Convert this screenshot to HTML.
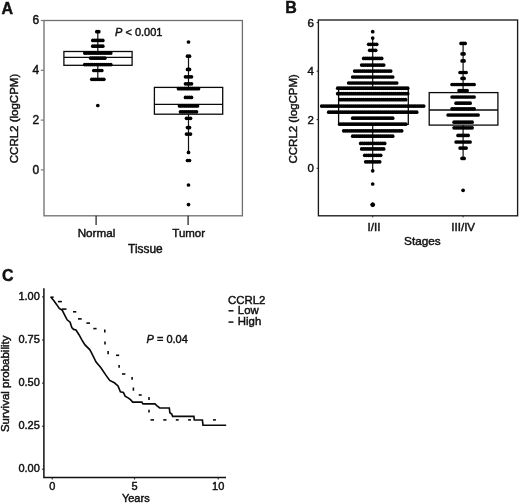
<!DOCTYPE html>
<html lang="en">
<head>
<meta charset="utf-8">
<title>CCRL2 expression figure</title>
<style>
html,body{margin:0;padding:0;background:#fff;}
body{width:520px;height:503px;overflow:hidden;}
svg{display:block;}
svg text{font-family:"Liberation Sans",Arial,sans-serif;stroke:#111;stroke-width:0.45px;}
</style>
</head>
<body>
<svg width="520" height="503" viewBox="0 0 520 503">
<rect width="520" height="503" fill="#fff"/>
<g id="panelA">
<text x="1.5" y="14.0" font-size="16" font-weight="bold" fill="#111">A</text>
<rect x="44" y="20.5" width="198.4" height="195.3" fill="none" stroke="#6e6e6e" stroke-width="1.3"/>
<line x1="40.8" x2="44" y1="20.5" y2="20.5" stroke="#7a7a7a" stroke-width="1.2"/>
<text x="39.3" y="24.3" font-size="12" text-anchor="end" fill="#111">6</text>
<line x1="40.8" x2="44" y1="70.3" y2="70.3" stroke="#7a7a7a" stroke-width="1.2"/>
<text x="39.3" y="74.1" font-size="12" text-anchor="end" fill="#111">4</text>
<line x1="40.8" x2="44" y1="120.1" y2="120.1" stroke="#7a7a7a" stroke-width="1.2"/>
<text x="39.3" y="123.9" font-size="12" text-anchor="end" fill="#111">2</text>
<line x1="40.8" x2="44" y1="169.9" y2="169.9" stroke="#7a7a7a" stroke-width="1.2"/>
<text x="39.3" y="173.7" font-size="12" text-anchor="end" fill="#111">0</text>
<line x1="96.1" x2="96.1" y1="215.8" y2="225" stroke="#2a2a2a" stroke-width="1.3"/>
<line x1="188.1" x2="188.1" y1="215.8" y2="225" stroke="#2a2a2a" stroke-width="1.3"/>
<text x="96.5" y="236.9" font-size="11.7" text-anchor="middle" fill="#111">Normal</text>
<text x="188.7" y="237.2" font-size="11.5" text-anchor="middle" fill="#111">Tumor</text>
<text x="145.4" y="252.7" font-size="11.9" text-anchor="middle" fill="#111">Tissue</text>
<text transform="translate(17.5,118.5) rotate(-90)" font-size="11.5" text-anchor="middle" fill="#111">CCRL2 (logCPM)</text>
<text x="115" y="35.7" font-size="11" fill="#111"><tspan font-style="italic">P</tspan> &lt; 0.001</text>
<path d="M97.8 31.5 V51.5 M97.8 65.3 V80.5" stroke="#111" stroke-width="1.2"/>
<rect x="63.9" y="51.5" width="68.2" height="13.8" fill="none" stroke="#0a0a0a" stroke-width="1.3"/>
<line x1="63.9" x2="132.1" y1="57.3" y2="57.3" stroke="#0a0a0a" stroke-width="1.3"/>
<g fill="#000">
<circle cx="96.80" cy="31.70" r="1.85"/><circle cx="98.80" cy="31.70" r="1.85"/>
<circle cx="92.80" cy="40.40" r="1.85"/><circle cx="94.80" cy="40.40" r="1.85"/><circle cx="96.80" cy="40.40" r="1.85"/><circle cx="98.80" cy="40.40" r="1.85"/><circle cx="100.80" cy="40.40" r="1.85"/><circle cx="102.80" cy="40.40" r="1.85"/>
<circle cx="92.80" cy="46.20" r="1.85"/><circle cx="94.80" cy="46.20" r="1.85"/><circle cx="96.80" cy="46.20" r="1.85"/><circle cx="98.80" cy="46.20" r="1.85"/><circle cx="100.80" cy="46.20" r="1.85"/><circle cx="102.80" cy="46.20" r="1.85"/>
<circle cx="84.80" cy="53.10" r="1.85"/><circle cx="86.80" cy="53.10" r="1.85"/><circle cx="88.80" cy="53.10" r="1.85"/><circle cx="90.80" cy="53.10" r="1.85"/><circle cx="92.80" cy="53.10" r="1.85"/><circle cx="94.80" cy="53.10" r="1.85"/><circle cx="96.80" cy="53.10" r="1.85"/><circle cx="98.80" cy="53.10" r="1.85"/><circle cx="100.80" cy="53.10" r="1.85"/><circle cx="102.80" cy="53.10" r="1.85"/><circle cx="104.80" cy="53.10" r="1.85"/><circle cx="106.80" cy="53.10" r="1.85"/><circle cx="108.80" cy="53.10" r="1.85"/><circle cx="110.80" cy="53.10" r="1.85"/>
<circle cx="90.80" cy="58.20" r="1.85"/><circle cx="92.80" cy="58.20" r="1.85"/><circle cx="94.80" cy="58.20" r="1.85"/><circle cx="96.80" cy="58.20" r="1.85"/><circle cx="98.80" cy="58.20" r="1.85"/><circle cx="100.80" cy="58.20" r="1.85"/><circle cx="102.80" cy="58.20" r="1.85"/><circle cx="104.80" cy="58.20" r="1.85"/>
<circle cx="84.80" cy="64.60" r="1.85"/><circle cx="86.80" cy="64.60" r="1.85"/><circle cx="88.80" cy="64.60" r="1.85"/><circle cx="90.80" cy="64.60" r="1.85"/><circle cx="92.80" cy="64.60" r="1.85"/><circle cx="94.80" cy="64.60" r="1.85"/><circle cx="96.80" cy="64.60" r="1.85"/><circle cx="98.80" cy="64.60" r="1.85"/><circle cx="100.80" cy="64.60" r="1.85"/><circle cx="102.80" cy="64.60" r="1.85"/><circle cx="104.80" cy="64.60" r="1.85"/><circle cx="106.80" cy="64.60" r="1.85"/><circle cx="108.80" cy="64.60" r="1.85"/><circle cx="110.80" cy="64.60" r="1.85"/>
<circle cx="93.80" cy="70.50" r="1.85"/><circle cx="95.80" cy="70.50" r="1.85"/><circle cx="97.80" cy="70.50" r="1.85"/><circle cx="99.80" cy="70.50" r="1.85"/><circle cx="101.80" cy="70.50" r="1.85"/>
<circle cx="91.80" cy="79.30" r="1.85"/><circle cx="93.80" cy="79.30" r="1.85"/><circle cx="95.80" cy="79.30" r="1.85"/><circle cx="97.80" cy="79.30" r="1.85"/><circle cx="99.80" cy="79.30" r="1.85"/><circle cx="101.80" cy="79.30" r="1.85"/><circle cx="103.80" cy="79.30" r="1.85"/>
<circle cx="97.80" cy="105.50" r="1.85"/>
</g>
<path d="M188.5 56.2 V87.4 M188.5 114.2 V152.4" stroke="#111" stroke-width="1.2"/>
<rect x="154.4" y="87.4" width="68.3" height="26.8" fill="none" stroke="#0a0a0a" stroke-width="1.3"/>
<line x1="154.4" x2="222.7" y1="104.4" y2="104.4" stroke="#0a0a0a" stroke-width="1.3"/>
<g fill="#000">
<circle cx="188.50" cy="42.00" r="1.85"/>
<circle cx="187.50" cy="56.20" r="1.85"/><circle cx="189.50" cy="56.20" r="1.85"/>
<circle cx="187.50" cy="69.40" r="1.85"/><circle cx="189.50" cy="69.40" r="1.85"/>
<circle cx="185.50" cy="76.80" r="1.85"/><circle cx="187.50" cy="76.80" r="1.85"/><circle cx="189.50" cy="76.80" r="1.85"/><circle cx="191.50" cy="76.80" r="1.85"/>
<circle cx="185.50" cy="83.80" r="1.85"/><circle cx="187.50" cy="83.80" r="1.85"/><circle cx="189.50" cy="83.80" r="1.85"/><circle cx="191.50" cy="83.80" r="1.85"/>
<circle cx="178.50" cy="88.70" r="1.85"/><circle cx="180.50" cy="88.70" r="1.85"/><circle cx="182.50" cy="88.70" r="1.85"/><circle cx="184.50" cy="88.70" r="1.85"/><circle cx="186.50" cy="88.70" r="1.85"/><circle cx="188.50" cy="88.70" r="1.85"/><circle cx="190.50" cy="88.70" r="1.85"/><circle cx="192.50" cy="88.70" r="1.85"/><circle cx="194.50" cy="88.70" r="1.85"/><circle cx="196.50" cy="88.70" r="1.85"/><circle cx="198.50" cy="88.70" r="1.85"/>
<circle cx="185.50" cy="97.40" r="1.85"/><circle cx="187.50" cy="97.40" r="1.85"/><circle cx="189.50" cy="97.40" r="1.85"/><circle cx="191.50" cy="97.40" r="1.85"/>
<circle cx="179.50" cy="105.90" r="1.85"/><circle cx="181.50" cy="105.90" r="1.85"/><circle cx="183.50" cy="105.90" r="1.85"/><circle cx="185.50" cy="105.90" r="1.85"/><circle cx="187.50" cy="105.90" r="1.85"/><circle cx="189.50" cy="105.90" r="1.85"/><circle cx="191.50" cy="105.90" r="1.85"/><circle cx="193.50" cy="105.90" r="1.85"/><circle cx="195.50" cy="105.90" r="1.85"/><circle cx="197.50" cy="105.90" r="1.85"/>
<circle cx="180.50" cy="111.80" r="1.85"/><circle cx="182.50" cy="111.80" r="1.85"/><circle cx="184.50" cy="111.80" r="1.85"/><circle cx="186.50" cy="111.80" r="1.85"/><circle cx="188.50" cy="111.80" r="1.85"/><circle cx="190.50" cy="111.80" r="1.85"/><circle cx="192.50" cy="111.80" r="1.85"/><circle cx="194.50" cy="111.80" r="1.85"/><circle cx="196.50" cy="111.80" r="1.85"/>
<circle cx="186.50" cy="118.30" r="1.85"/><circle cx="188.50" cy="118.30" r="1.85"/><circle cx="190.50" cy="118.30" r="1.85"/>
<circle cx="187.50" cy="127.60" r="1.85"/><circle cx="189.50" cy="127.60" r="1.85"/>
<circle cx="186.50" cy="134.10" r="1.85"/><circle cx="188.50" cy="134.10" r="1.85"/><circle cx="190.50" cy="134.10" r="1.85"/>
<circle cx="188.50" cy="152.40" r="1.85"/>
<circle cx="187.50" cy="160.50" r="1.85"/><circle cx="189.50" cy="160.50" r="1.85"/>
<circle cx="188.50" cy="185.00" r="1.85"/>
<circle cx="188.50" cy="204.60" r="1.85"/>
</g>
</g>
<g id="panelB">
<text x="285.2" y="13" font-size="16" font-weight="bold" fill="#111">B</text>
<rect x="318.4" y="20" width="199.2" height="195.8" fill="none" stroke="#1a1a1a" stroke-width="1.35"/>
<line x1="316.6" x2="318.4" y1="22.6" y2="22.6" stroke="#222" stroke-width="1"/>
<text x="314" y="26.5" font-size="11.5" text-anchor="end" fill="#111">6</text>
<line x1="316.6" x2="318.4" y1="71.2" y2="71.2" stroke="#222" stroke-width="1"/>
<text x="314" y="75.1" font-size="11.5" text-anchor="end" fill="#111">4</text>
<line x1="316.6" x2="318.4" y1="119.6" y2="119.6" stroke="#222" stroke-width="1"/>
<text x="314" y="123.5" font-size="11.5" text-anchor="end" fill="#111">2</text>
<line x1="316.6" x2="318.4" y1="168.3" y2="168.3" stroke="#222" stroke-width="1"/>
<text x="314" y="172.2" font-size="11.5" text-anchor="end" fill="#111">0</text>
<line x1="372.7" x2="372.7" y1="215.8" y2="217.4" stroke="#222" stroke-width="1"/>
<line x1="463.1" x2="463.1" y1="215.8" y2="217.4" stroke="#222" stroke-width="1"/>
<text x="374" y="231" font-size="11.6" text-anchor="middle" fill="#111">I/II</text>
<text x="463.2" y="231" font-size="11.6" text-anchor="middle" fill="#111">III/IV</text>
<text x="422.4" y="245.3" font-size="11.8" text-anchor="middle" fill="#111">Stages</text>
<text transform="translate(296.6,118.8) rotate(-90)" font-size="11.5" text-anchor="middle" fill="#111">CCRL2 (logCPM)</text>
<path d="M372.7 38.1 V89.4 M372.7 124.3 V170.8" stroke="#111" stroke-width="1.2"/>
<rect x="338.6" y="89.4" width="69.7" height="34.9" fill="none" stroke="#0a0a0a" stroke-width="1.3"/>
<line x1="338.6" x2="408.3" y1="106.1" y2="106.1" stroke="#0a0a0a" stroke-width="1.3"/>
<g fill="#000">
<circle cx="372.70" cy="31.70" r="1.85"/>
<circle cx="372.70" cy="38.10" r="1.85"/>
<circle cx="368.70" cy="44.30" r="1.85"/><circle cx="370.70" cy="44.30" r="1.85"/><circle cx="372.70" cy="44.30" r="1.85"/><circle cx="374.70" cy="44.30" r="1.85"/><circle cx="376.70" cy="44.30" r="1.85"/>
<circle cx="369.70" cy="50.30" r="1.85"/><circle cx="371.70" cy="50.30" r="1.85"/><circle cx="373.70" cy="50.30" r="1.85"/><circle cx="375.70" cy="50.30" r="1.85"/>
<circle cx="363.70" cy="58.40" r="1.85"/><circle cx="365.70" cy="58.40" r="1.85"/><circle cx="367.70" cy="58.40" r="1.85"/><circle cx="369.70" cy="58.40" r="1.85"/><circle cx="371.70" cy="58.40" r="1.85"/><circle cx="373.70" cy="58.40" r="1.85"/><circle cx="375.70" cy="58.40" r="1.85"/><circle cx="377.70" cy="58.40" r="1.85"/><circle cx="379.70" cy="58.40" r="1.85"/><circle cx="381.70" cy="58.40" r="1.85"/>
<circle cx="361.70" cy="65.10" r="1.85"/><circle cx="363.70" cy="65.10" r="1.85"/><circle cx="365.70" cy="65.10" r="1.85"/><circle cx="367.70" cy="65.10" r="1.85"/><circle cx="369.70" cy="65.10" r="1.85"/><circle cx="371.70" cy="65.10" r="1.85"/><circle cx="373.70" cy="65.10" r="1.85"/><circle cx="375.70" cy="65.10" r="1.85"/><circle cx="377.70" cy="65.10" r="1.85"/><circle cx="379.70" cy="65.10" r="1.85"/><circle cx="381.70" cy="65.10" r="1.85"/><circle cx="383.70" cy="65.10" r="1.85"/>
<circle cx="354.70" cy="71.10" r="1.85"/><circle cx="356.70" cy="71.10" r="1.85"/><circle cx="358.70" cy="71.10" r="1.85"/><circle cx="360.70" cy="71.10" r="1.85"/><circle cx="362.70" cy="71.10" r="1.85"/><circle cx="364.70" cy="71.10" r="1.85"/><circle cx="366.70" cy="71.10" r="1.85"/><circle cx="368.70" cy="71.10" r="1.85"/><circle cx="370.70" cy="71.10" r="1.85"/><circle cx="372.70" cy="71.10" r="1.85"/><circle cx="374.70" cy="71.10" r="1.85"/><circle cx="376.70" cy="71.10" r="1.85"/><circle cx="378.70" cy="71.10" r="1.85"/><circle cx="380.70" cy="71.10" r="1.85"/><circle cx="382.70" cy="71.10" r="1.85"/><circle cx="384.70" cy="71.10" r="1.85"/><circle cx="386.70" cy="71.10" r="1.85"/><circle cx="388.70" cy="71.10" r="1.85"/><circle cx="390.70" cy="71.10" r="1.85"/>
<circle cx="352.70" cy="77.00" r="1.85"/><circle cx="354.70" cy="77.00" r="1.85"/><circle cx="356.70" cy="77.00" r="1.85"/><circle cx="358.70" cy="77.00" r="1.85"/><circle cx="360.70" cy="77.00" r="1.85"/><circle cx="362.70" cy="77.00" r="1.85"/><circle cx="364.70" cy="77.00" r="1.85"/><circle cx="366.70" cy="77.00" r="1.85"/><circle cx="368.70" cy="77.00" r="1.85"/><circle cx="370.70" cy="77.00" r="1.85"/><circle cx="372.70" cy="77.00" r="1.85"/><circle cx="374.70" cy="77.00" r="1.85"/><circle cx="376.70" cy="77.00" r="1.85"/><circle cx="378.70" cy="77.00" r="1.85"/><circle cx="380.70" cy="77.00" r="1.85"/><circle cx="382.70" cy="77.00" r="1.85"/><circle cx="384.70" cy="77.00" r="1.85"/><circle cx="386.70" cy="77.00" r="1.85"/><circle cx="388.70" cy="77.00" r="1.85"/><circle cx="390.70" cy="77.00" r="1.85"/><circle cx="392.70" cy="77.00" r="1.85"/>
<circle cx="348.70" cy="83.00" r="1.85"/><circle cx="350.70" cy="83.00" r="1.85"/><circle cx="352.70" cy="83.00" r="1.85"/><circle cx="354.70" cy="83.00" r="1.85"/><circle cx="356.70" cy="83.00" r="1.85"/><circle cx="358.70" cy="83.00" r="1.85"/><circle cx="360.70" cy="83.00" r="1.85"/><circle cx="362.70" cy="83.00" r="1.85"/><circle cx="364.70" cy="83.00" r="1.85"/><circle cx="366.70" cy="83.00" r="1.85"/><circle cx="368.70" cy="83.00" r="1.85"/><circle cx="370.70" cy="83.00" r="1.85"/><circle cx="372.70" cy="83.00" r="1.85"/><circle cx="374.70" cy="83.00" r="1.85"/><circle cx="376.70" cy="83.00" r="1.85"/><circle cx="378.70" cy="83.00" r="1.85"/><circle cx="380.70" cy="83.00" r="1.85"/><circle cx="382.70" cy="83.00" r="1.85"/><circle cx="384.70" cy="83.00" r="1.85"/><circle cx="386.70" cy="83.00" r="1.85"/><circle cx="388.70" cy="83.00" r="1.85"/><circle cx="390.70" cy="83.00" r="1.85"/><circle cx="392.70" cy="83.00" r="1.85"/><circle cx="394.70" cy="83.00" r="1.85"/><circle cx="396.70" cy="83.00" r="1.85"/>
<circle cx="337.70" cy="88.20" r="1.85"/><circle cx="339.70" cy="88.20" r="1.85"/><circle cx="341.70" cy="88.20" r="1.85"/><circle cx="343.70" cy="88.20" r="1.85"/><circle cx="345.70" cy="88.20" r="1.85"/><circle cx="347.70" cy="88.20" r="1.85"/><circle cx="349.70" cy="88.20" r="1.85"/><circle cx="351.70" cy="88.20" r="1.85"/><circle cx="353.70" cy="88.20" r="1.85"/><circle cx="355.70" cy="88.20" r="1.85"/><circle cx="357.70" cy="88.20" r="1.85"/><circle cx="359.70" cy="88.20" r="1.85"/><circle cx="361.70" cy="88.20" r="1.85"/><circle cx="363.70" cy="88.20" r="1.85"/><circle cx="365.70" cy="88.20" r="1.85"/><circle cx="367.70" cy="88.20" r="1.85"/><circle cx="369.70" cy="88.20" r="1.85"/><circle cx="371.70" cy="88.20" r="1.85"/><circle cx="373.70" cy="88.20" r="1.85"/><circle cx="375.70" cy="88.20" r="1.85"/><circle cx="377.70" cy="88.20" r="1.85"/><circle cx="379.70" cy="88.20" r="1.85"/><circle cx="381.70" cy="88.20" r="1.85"/><circle cx="383.70" cy="88.20" r="1.85"/><circle cx="385.70" cy="88.20" r="1.85"/><circle cx="387.70" cy="88.20" r="1.85"/><circle cx="389.70" cy="88.20" r="1.85"/><circle cx="391.70" cy="88.20" r="1.85"/><circle cx="393.70" cy="88.20" r="1.85"/><circle cx="395.70" cy="88.20" r="1.85"/><circle cx="397.70" cy="88.20" r="1.85"/><circle cx="399.70" cy="88.20" r="1.85"/><circle cx="401.70" cy="88.20" r="1.85"/><circle cx="403.70" cy="88.20" r="1.85"/><circle cx="405.70" cy="88.20" r="1.85"/><circle cx="407.70" cy="88.20" r="1.85"/>
<circle cx="337.70" cy="93.70" r="1.85"/><circle cx="339.70" cy="93.70" r="1.85"/><circle cx="341.70" cy="93.70" r="1.85"/><circle cx="343.70" cy="93.70" r="1.85"/><circle cx="345.70" cy="93.70" r="1.85"/><circle cx="347.70" cy="93.70" r="1.85"/><circle cx="349.70" cy="93.70" r="1.85"/><circle cx="351.70" cy="93.70" r="1.85"/><circle cx="353.70" cy="93.70" r="1.85"/><circle cx="355.70" cy="93.70" r="1.85"/><circle cx="357.70" cy="93.70" r="1.85"/><circle cx="359.70" cy="93.70" r="1.85"/><circle cx="361.70" cy="93.70" r="1.85"/><circle cx="363.70" cy="93.70" r="1.85"/><circle cx="365.70" cy="93.70" r="1.85"/><circle cx="367.70" cy="93.70" r="1.85"/><circle cx="369.70" cy="93.70" r="1.85"/><circle cx="371.70" cy="93.70" r="1.85"/><circle cx="373.70" cy="93.70" r="1.85"/><circle cx="375.70" cy="93.70" r="1.85"/><circle cx="377.70" cy="93.70" r="1.85"/><circle cx="379.70" cy="93.70" r="1.85"/><circle cx="381.70" cy="93.70" r="1.85"/><circle cx="383.70" cy="93.70" r="1.85"/><circle cx="385.70" cy="93.70" r="1.85"/><circle cx="387.70" cy="93.70" r="1.85"/><circle cx="389.70" cy="93.70" r="1.85"/><circle cx="391.70" cy="93.70" r="1.85"/><circle cx="393.70" cy="93.70" r="1.85"/><circle cx="395.70" cy="93.70" r="1.85"/><circle cx="397.70" cy="93.70" r="1.85"/><circle cx="399.70" cy="93.70" r="1.85"/><circle cx="401.70" cy="93.70" r="1.85"/><circle cx="403.70" cy="93.70" r="1.85"/><circle cx="405.70" cy="93.70" r="1.85"/><circle cx="407.70" cy="93.70" r="1.85"/>
<circle cx="339.70" cy="99.70" r="1.85"/><circle cx="341.70" cy="99.70" r="1.85"/><circle cx="343.70" cy="99.70" r="1.85"/><circle cx="345.70" cy="99.70" r="1.85"/><circle cx="347.70" cy="99.70" r="1.85"/><circle cx="349.70" cy="99.70" r="1.85"/><circle cx="351.70" cy="99.70" r="1.85"/><circle cx="353.70" cy="99.70" r="1.85"/><circle cx="355.70" cy="99.70" r="1.85"/><circle cx="357.70" cy="99.70" r="1.85"/><circle cx="359.70" cy="99.70" r="1.85"/><circle cx="361.70" cy="99.70" r="1.85"/><circle cx="363.70" cy="99.70" r="1.85"/><circle cx="365.70" cy="99.70" r="1.85"/><circle cx="367.70" cy="99.70" r="1.85"/><circle cx="369.70" cy="99.70" r="1.85"/><circle cx="371.70" cy="99.70" r="1.85"/><circle cx="373.70" cy="99.70" r="1.85"/><circle cx="375.70" cy="99.70" r="1.85"/><circle cx="377.70" cy="99.70" r="1.85"/><circle cx="379.70" cy="99.70" r="1.85"/><circle cx="381.70" cy="99.70" r="1.85"/><circle cx="383.70" cy="99.70" r="1.85"/><circle cx="385.70" cy="99.70" r="1.85"/><circle cx="387.70" cy="99.70" r="1.85"/><circle cx="389.70" cy="99.70" r="1.85"/><circle cx="391.70" cy="99.70" r="1.85"/><circle cx="393.70" cy="99.70" r="1.85"/><circle cx="395.70" cy="99.70" r="1.85"/><circle cx="397.70" cy="99.70" r="1.85"/><circle cx="399.70" cy="99.70" r="1.85"/><circle cx="401.70" cy="99.70" r="1.85"/><circle cx="403.70" cy="99.70" r="1.85"/><circle cx="405.70" cy="99.70" r="1.85"/>
<circle cx="321.70" cy="106.10" r="1.85"/><circle cx="323.70" cy="106.10" r="1.85"/><circle cx="325.70" cy="106.10" r="1.85"/><circle cx="327.70" cy="106.10" r="1.85"/><circle cx="329.70" cy="106.10" r="1.85"/><circle cx="331.70" cy="106.10" r="1.85"/><circle cx="333.70" cy="106.10" r="1.85"/><circle cx="335.70" cy="106.10" r="1.85"/><circle cx="337.70" cy="106.10" r="1.85"/><circle cx="339.70" cy="106.10" r="1.85"/><circle cx="341.70" cy="106.10" r="1.85"/><circle cx="343.70" cy="106.10" r="1.85"/><circle cx="345.70" cy="106.10" r="1.85"/><circle cx="347.70" cy="106.10" r="1.85"/><circle cx="349.70" cy="106.10" r="1.85"/><circle cx="351.70" cy="106.10" r="1.85"/><circle cx="353.70" cy="106.10" r="1.85"/><circle cx="355.70" cy="106.10" r="1.85"/><circle cx="357.70" cy="106.10" r="1.85"/><circle cx="359.70" cy="106.10" r="1.85"/><circle cx="361.70" cy="106.10" r="1.85"/><circle cx="363.70" cy="106.10" r="1.85"/><circle cx="365.70" cy="106.10" r="1.85"/><circle cx="367.70" cy="106.10" r="1.85"/><circle cx="369.70" cy="106.10" r="1.85"/><circle cx="371.70" cy="106.10" r="1.85"/><circle cx="373.70" cy="106.10" r="1.85"/><circle cx="375.70" cy="106.10" r="1.85"/><circle cx="377.70" cy="106.10" r="1.85"/><circle cx="379.70" cy="106.10" r="1.85"/><circle cx="381.70" cy="106.10" r="1.85"/><circle cx="383.70" cy="106.10" r="1.85"/><circle cx="385.70" cy="106.10" r="1.85"/><circle cx="387.70" cy="106.10" r="1.85"/><circle cx="389.70" cy="106.10" r="1.85"/><circle cx="391.70" cy="106.10" r="1.85"/><circle cx="393.70" cy="106.10" r="1.85"/><circle cx="395.70" cy="106.10" r="1.85"/><circle cx="397.70" cy="106.10" r="1.85"/><circle cx="399.70" cy="106.10" r="1.85"/><circle cx="401.70" cy="106.10" r="1.85"/><circle cx="403.70" cy="106.10" r="1.85"/><circle cx="405.70" cy="106.10" r="1.85"/><circle cx="407.70" cy="106.10" r="1.85"/><circle cx="409.70" cy="106.10" r="1.85"/><circle cx="411.70" cy="106.10" r="1.85"/><circle cx="413.70" cy="106.10" r="1.85"/><circle cx="415.70" cy="106.10" r="1.85"/><circle cx="417.70" cy="106.10" r="1.85"/><circle cx="419.70" cy="106.10" r="1.85"/><circle cx="421.70" cy="106.10" r="1.85"/><circle cx="423.70" cy="106.10" r="1.85"/>
<circle cx="328.70" cy="112.20" r="1.85"/><circle cx="330.70" cy="112.20" r="1.85"/><circle cx="332.70" cy="112.20" r="1.85"/><circle cx="334.70" cy="112.20" r="1.85"/><circle cx="336.70" cy="112.20" r="1.85"/><circle cx="338.70" cy="112.20" r="1.85"/><circle cx="340.70" cy="112.20" r="1.85"/><circle cx="342.70" cy="112.20" r="1.85"/><circle cx="344.70" cy="112.20" r="1.85"/><circle cx="346.70" cy="112.20" r="1.85"/><circle cx="348.70" cy="112.20" r="1.85"/><circle cx="350.70" cy="112.20" r="1.85"/><circle cx="352.70" cy="112.20" r="1.85"/><circle cx="354.70" cy="112.20" r="1.85"/><circle cx="356.70" cy="112.20" r="1.85"/><circle cx="358.70" cy="112.20" r="1.85"/><circle cx="360.70" cy="112.20" r="1.85"/><circle cx="362.70" cy="112.20" r="1.85"/><circle cx="364.70" cy="112.20" r="1.85"/><circle cx="366.70" cy="112.20" r="1.85"/><circle cx="368.70" cy="112.20" r="1.85"/><circle cx="370.70" cy="112.20" r="1.85"/><circle cx="372.70" cy="112.20" r="1.85"/><circle cx="374.70" cy="112.20" r="1.85"/><circle cx="376.70" cy="112.20" r="1.85"/><circle cx="378.70" cy="112.20" r="1.85"/><circle cx="380.70" cy="112.20" r="1.85"/><circle cx="382.70" cy="112.20" r="1.85"/><circle cx="384.70" cy="112.20" r="1.85"/><circle cx="386.70" cy="112.20" r="1.85"/><circle cx="388.70" cy="112.20" r="1.85"/><circle cx="390.70" cy="112.20" r="1.85"/><circle cx="392.70" cy="112.20" r="1.85"/><circle cx="394.70" cy="112.20" r="1.85"/><circle cx="396.70" cy="112.20" r="1.85"/><circle cx="398.70" cy="112.20" r="1.85"/><circle cx="400.70" cy="112.20" r="1.85"/><circle cx="402.70" cy="112.20" r="1.85"/><circle cx="404.70" cy="112.20" r="1.85"/><circle cx="406.70" cy="112.20" r="1.85"/><circle cx="408.70" cy="112.20" r="1.85"/><circle cx="410.70" cy="112.20" r="1.85"/><circle cx="412.70" cy="112.20" r="1.85"/><circle cx="414.70" cy="112.20" r="1.85"/><circle cx="416.70" cy="112.20" r="1.85"/>
<circle cx="352.70" cy="118.20" r="1.85"/><circle cx="354.70" cy="118.20" r="1.85"/><circle cx="356.70" cy="118.20" r="1.85"/><circle cx="358.70" cy="118.20" r="1.85"/><circle cx="360.70" cy="118.20" r="1.85"/><circle cx="362.70" cy="118.20" r="1.85"/><circle cx="364.70" cy="118.20" r="1.85"/><circle cx="366.70" cy="118.20" r="1.85"/><circle cx="368.70" cy="118.20" r="1.85"/><circle cx="370.70" cy="118.20" r="1.85"/><circle cx="372.70" cy="118.20" r="1.85"/><circle cx="374.70" cy="118.20" r="1.85"/><circle cx="376.70" cy="118.20" r="1.85"/><circle cx="378.70" cy="118.20" r="1.85"/><circle cx="380.70" cy="118.20" r="1.85"/><circle cx="382.70" cy="118.20" r="1.85"/><circle cx="384.70" cy="118.20" r="1.85"/><circle cx="386.70" cy="118.20" r="1.85"/><circle cx="388.70" cy="118.20" r="1.85"/><circle cx="390.70" cy="118.20" r="1.85"/><circle cx="392.70" cy="118.20" r="1.85"/>
<circle cx="339.70" cy="124.20" r="1.85"/><circle cx="341.70" cy="124.20" r="1.85"/><circle cx="343.70" cy="124.20" r="1.85"/><circle cx="345.70" cy="124.20" r="1.85"/><circle cx="347.70" cy="124.20" r="1.85"/><circle cx="349.70" cy="124.20" r="1.85"/><circle cx="351.70" cy="124.20" r="1.85"/><circle cx="353.70" cy="124.20" r="1.85"/><circle cx="355.70" cy="124.20" r="1.85"/><circle cx="357.70" cy="124.20" r="1.85"/><circle cx="359.70" cy="124.20" r="1.85"/><circle cx="361.70" cy="124.20" r="1.85"/><circle cx="363.70" cy="124.20" r="1.85"/><circle cx="365.70" cy="124.20" r="1.85"/><circle cx="367.70" cy="124.20" r="1.85"/><circle cx="369.70" cy="124.20" r="1.85"/><circle cx="371.70" cy="124.20" r="1.85"/><circle cx="373.70" cy="124.20" r="1.85"/><circle cx="375.70" cy="124.20" r="1.85"/><circle cx="377.70" cy="124.20" r="1.85"/><circle cx="379.70" cy="124.20" r="1.85"/><circle cx="381.70" cy="124.20" r="1.85"/><circle cx="383.70" cy="124.20" r="1.85"/><circle cx="385.70" cy="124.20" r="1.85"/><circle cx="387.70" cy="124.20" r="1.85"/><circle cx="389.70" cy="124.20" r="1.85"/><circle cx="391.70" cy="124.20" r="1.85"/><circle cx="393.70" cy="124.20" r="1.85"/><circle cx="395.70" cy="124.20" r="1.85"/><circle cx="397.70" cy="124.20" r="1.85"/><circle cx="399.70" cy="124.20" r="1.85"/><circle cx="401.70" cy="124.20" r="1.85"/><circle cx="403.70" cy="124.20" r="1.85"/><circle cx="405.70" cy="124.20" r="1.85"/>
<circle cx="343.70" cy="130.80" r="1.85"/><circle cx="345.70" cy="130.80" r="1.85"/><circle cx="347.70" cy="130.80" r="1.85"/><circle cx="349.70" cy="130.80" r="1.85"/><circle cx="351.70" cy="130.80" r="1.85"/><circle cx="353.70" cy="130.80" r="1.85"/><circle cx="355.70" cy="130.80" r="1.85"/><circle cx="357.70" cy="130.80" r="1.85"/><circle cx="359.70" cy="130.80" r="1.85"/><circle cx="361.70" cy="130.80" r="1.85"/><circle cx="363.70" cy="130.80" r="1.85"/><circle cx="365.70" cy="130.80" r="1.85"/><circle cx="367.70" cy="130.80" r="1.85"/><circle cx="369.70" cy="130.80" r="1.85"/><circle cx="371.70" cy="130.80" r="1.85"/><circle cx="373.70" cy="130.80" r="1.85"/><circle cx="375.70" cy="130.80" r="1.85"/><circle cx="377.70" cy="130.80" r="1.85"/><circle cx="379.70" cy="130.80" r="1.85"/><circle cx="381.70" cy="130.80" r="1.85"/><circle cx="383.70" cy="130.80" r="1.85"/><circle cx="385.70" cy="130.80" r="1.85"/><circle cx="387.70" cy="130.80" r="1.85"/><circle cx="389.70" cy="130.80" r="1.85"/><circle cx="391.70" cy="130.80" r="1.85"/><circle cx="393.70" cy="130.80" r="1.85"/><circle cx="395.70" cy="130.80" r="1.85"/><circle cx="397.70" cy="130.80" r="1.85"/><circle cx="399.70" cy="130.80" r="1.85"/><circle cx="401.70" cy="130.80" r="1.85"/>
<circle cx="352.70" cy="136.20" r="1.85"/><circle cx="354.70" cy="136.20" r="1.85"/><circle cx="356.70" cy="136.20" r="1.85"/><circle cx="358.70" cy="136.20" r="1.85"/><circle cx="360.70" cy="136.20" r="1.85"/><circle cx="362.70" cy="136.20" r="1.85"/><circle cx="364.70" cy="136.20" r="1.85"/><circle cx="366.70" cy="136.20" r="1.85"/><circle cx="368.70" cy="136.20" r="1.85"/><circle cx="370.70" cy="136.20" r="1.85"/><circle cx="372.70" cy="136.20" r="1.85"/><circle cx="374.70" cy="136.20" r="1.85"/><circle cx="376.70" cy="136.20" r="1.85"/><circle cx="378.70" cy="136.20" r="1.85"/><circle cx="380.70" cy="136.20" r="1.85"/><circle cx="382.70" cy="136.20" r="1.85"/><circle cx="384.70" cy="136.20" r="1.85"/><circle cx="386.70" cy="136.20" r="1.85"/><circle cx="388.70" cy="136.20" r="1.85"/><circle cx="390.70" cy="136.20" r="1.85"/><circle cx="392.70" cy="136.20" r="1.85"/>
<circle cx="360.70" cy="143.40" r="1.85"/><circle cx="362.70" cy="143.40" r="1.85"/><circle cx="364.70" cy="143.40" r="1.85"/><circle cx="366.70" cy="143.40" r="1.85"/><circle cx="368.70" cy="143.40" r="1.85"/><circle cx="370.70" cy="143.40" r="1.85"/><circle cx="372.70" cy="143.40" r="1.85"/><circle cx="374.70" cy="143.40" r="1.85"/><circle cx="376.70" cy="143.40" r="1.85"/><circle cx="378.70" cy="143.40" r="1.85"/><circle cx="380.70" cy="143.40" r="1.85"/><circle cx="382.70" cy="143.40" r="1.85"/><circle cx="384.70" cy="143.40" r="1.85"/>
<circle cx="361.70" cy="148.90" r="1.85"/><circle cx="363.70" cy="148.90" r="1.85"/><circle cx="365.70" cy="148.90" r="1.85"/><circle cx="367.70" cy="148.90" r="1.85"/><circle cx="369.70" cy="148.90" r="1.85"/><circle cx="371.70" cy="148.90" r="1.85"/><circle cx="373.70" cy="148.90" r="1.85"/><circle cx="375.70" cy="148.90" r="1.85"/><circle cx="377.70" cy="148.90" r="1.85"/><circle cx="379.70" cy="148.90" r="1.85"/><circle cx="381.70" cy="148.90" r="1.85"/><circle cx="383.70" cy="148.90" r="1.85"/>
<circle cx="364.70" cy="155.30" r="1.85"/><circle cx="366.70" cy="155.30" r="1.85"/><circle cx="368.70" cy="155.30" r="1.85"/><circle cx="370.70" cy="155.30" r="1.85"/><circle cx="372.70" cy="155.30" r="1.85"/><circle cx="374.70" cy="155.30" r="1.85"/><circle cx="376.70" cy="155.30" r="1.85"/><circle cx="378.70" cy="155.30" r="1.85"/><circle cx="380.70" cy="155.30" r="1.85"/>
<circle cx="365.70" cy="161.80" r="1.85"/><circle cx="367.70" cy="161.80" r="1.85"/><circle cx="369.70" cy="161.80" r="1.85"/><circle cx="371.70" cy="161.80" r="1.85"/><circle cx="373.70" cy="161.80" r="1.85"/><circle cx="375.70" cy="161.80" r="1.85"/><circle cx="377.70" cy="161.80" r="1.85"/><circle cx="379.70" cy="161.80" r="1.85"/>
<circle cx="372.70" cy="170.80" r="1.85"/>
<circle cx="372.70" cy="184.00" r="1.85"/>
<path d="M370.09999999999997 204.7 L372.7 202.1 L375.3 204.7 L372.7 207.3 Z"/>
<circle cx="372.7" cy="204.7" r="2.3"/>
</g>
<path d="M463.1 43.4 V92.6 M463.1 125.1 V158.4" stroke="#111" stroke-width="1.2"/>
<rect x="429.2" y="92.6" width="68.7" height="32.5" fill="none" stroke="#0a0a0a" stroke-width="1.3"/>
<line x1="429.2" x2="497.9" y1="110" y2="110" stroke="#0a0a0a" stroke-width="1.3"/>
<g fill="#000">
<circle cx="461.10" cy="43.40" r="1.85"/><circle cx="463.10" cy="43.40" r="1.85"/><circle cx="465.10" cy="43.40" r="1.85"/>
<circle cx="462.10" cy="53.90" r="1.85"/><circle cx="464.10" cy="53.90" r="1.85"/>
<circle cx="462.10" cy="60.90" r="1.85"/><circle cx="464.10" cy="60.90" r="1.85"/>
<circle cx="460.10" cy="72.50" r="1.85"/><circle cx="462.10" cy="72.50" r="1.85"/><circle cx="464.10" cy="72.50" r="1.85"/><circle cx="466.10" cy="72.50" r="1.85"/>
<circle cx="462.10" cy="78.40" r="1.85"/><circle cx="464.10" cy="78.40" r="1.85"/>
<circle cx="452.10" cy="84.50" r="1.85"/><circle cx="454.10" cy="84.50" r="1.85"/><circle cx="456.10" cy="84.50" r="1.85"/><circle cx="458.10" cy="84.50" r="1.85"/><circle cx="460.10" cy="84.50" r="1.85"/><circle cx="462.10" cy="84.50" r="1.85"/><circle cx="464.10" cy="84.50" r="1.85"/><circle cx="466.10" cy="84.50" r="1.85"/><circle cx="468.10" cy="84.50" r="1.85"/><circle cx="470.10" cy="84.50" r="1.85"/><circle cx="472.10" cy="84.50" r="1.85"/><circle cx="474.10" cy="84.50" r="1.85"/>
<circle cx="459.10" cy="90.70" r="1.85"/><circle cx="461.10" cy="90.70" r="1.85"/><circle cx="463.10" cy="90.70" r="1.85"/><circle cx="465.10" cy="90.70" r="1.85"/><circle cx="467.10" cy="90.70" r="1.85"/>
<circle cx="452.10" cy="97.00" r="1.85"/><circle cx="454.10" cy="97.00" r="1.85"/><circle cx="456.10" cy="97.00" r="1.85"/><circle cx="458.10" cy="97.00" r="1.85"/><circle cx="460.10" cy="97.00" r="1.85"/><circle cx="462.10" cy="97.00" r="1.85"/><circle cx="464.10" cy="97.00" r="1.85"/><circle cx="466.10" cy="97.00" r="1.85"/><circle cx="468.10" cy="97.00" r="1.85"/><circle cx="470.10" cy="97.00" r="1.85"/><circle cx="472.10" cy="97.00" r="1.85"/><circle cx="474.10" cy="97.00" r="1.85"/>
<circle cx="456.10" cy="103.20" r="1.85"/><circle cx="458.10" cy="103.20" r="1.85"/><circle cx="460.10" cy="103.20" r="1.85"/><circle cx="462.10" cy="103.20" r="1.85"/><circle cx="464.10" cy="103.20" r="1.85"/><circle cx="466.10" cy="103.20" r="1.85"/><circle cx="468.10" cy="103.20" r="1.85"/><circle cx="470.10" cy="103.20" r="1.85"/>
<circle cx="452.10" cy="108.80" r="1.85"/><circle cx="454.10" cy="108.80" r="1.85"/><circle cx="456.10" cy="108.80" r="1.85"/><circle cx="458.10" cy="108.80" r="1.85"/><circle cx="460.10" cy="108.80" r="1.85"/><circle cx="462.10" cy="108.80" r="1.85"/><circle cx="464.10" cy="108.80" r="1.85"/><circle cx="466.10" cy="108.80" r="1.85"/><circle cx="468.10" cy="108.80" r="1.85"/><circle cx="470.10" cy="108.80" r="1.85"/><circle cx="472.10" cy="108.80" r="1.85"/><circle cx="474.10" cy="108.80" r="1.85"/>
<circle cx="448.10" cy="115.00" r="1.85"/><circle cx="450.10" cy="115.00" r="1.85"/><circle cx="452.10" cy="115.00" r="1.85"/><circle cx="454.10" cy="115.00" r="1.85"/><circle cx="456.10" cy="115.00" r="1.85"/><circle cx="458.10" cy="115.00" r="1.85"/><circle cx="460.10" cy="115.00" r="1.85"/><circle cx="462.10" cy="115.00" r="1.85"/><circle cx="464.10" cy="115.00" r="1.85"/><circle cx="466.10" cy="115.00" r="1.85"/><circle cx="468.10" cy="115.00" r="1.85"/><circle cx="470.10" cy="115.00" r="1.85"/><circle cx="472.10" cy="115.00" r="1.85"/><circle cx="474.10" cy="115.00" r="1.85"/><circle cx="476.10" cy="115.00" r="1.85"/><circle cx="478.10" cy="115.00" r="1.85"/>
<circle cx="454.10" cy="122.20" r="1.85"/><circle cx="456.10" cy="122.20" r="1.85"/><circle cx="458.10" cy="122.20" r="1.85"/><circle cx="460.10" cy="122.20" r="1.85"/><circle cx="462.10" cy="122.20" r="1.85"/><circle cx="464.10" cy="122.20" r="1.85"/><circle cx="466.10" cy="122.20" r="1.85"/><circle cx="468.10" cy="122.20" r="1.85"/><circle cx="470.10" cy="122.20" r="1.85"/><circle cx="472.10" cy="122.20" r="1.85"/>
<circle cx="454.10" cy="127.80" r="1.85"/><circle cx="456.10" cy="127.80" r="1.85"/><circle cx="458.10" cy="127.80" r="1.85"/><circle cx="460.10" cy="127.80" r="1.85"/><circle cx="462.10" cy="127.80" r="1.85"/><circle cx="464.10" cy="127.80" r="1.85"/><circle cx="466.10" cy="127.80" r="1.85"/><circle cx="468.10" cy="127.80" r="1.85"/><circle cx="470.10" cy="127.80" r="1.85"/><circle cx="472.10" cy="127.80" r="1.85"/>
<circle cx="458.10" cy="135.40" r="1.85"/><circle cx="460.10" cy="135.40" r="1.85"/><circle cx="462.10" cy="135.40" r="1.85"/><circle cx="464.10" cy="135.40" r="1.85"/><circle cx="466.10" cy="135.40" r="1.85"/><circle cx="468.10" cy="135.40" r="1.85"/>
<circle cx="456.10" cy="142.00" r="1.85"/><circle cx="458.10" cy="142.00" r="1.85"/><circle cx="460.10" cy="142.00" r="1.85"/><circle cx="462.10" cy="142.00" r="1.85"/><circle cx="464.10" cy="142.00" r="1.85"/><circle cx="466.10" cy="142.00" r="1.85"/><circle cx="468.10" cy="142.00" r="1.85"/><circle cx="470.10" cy="142.00" r="1.85"/>
<circle cx="460.10" cy="148.10" r="1.85"/><circle cx="462.10" cy="148.10" r="1.85"/><circle cx="464.10" cy="148.10" r="1.85"/><circle cx="466.10" cy="148.10" r="1.85"/>
<circle cx="462.10" cy="158.40" r="1.85"/><circle cx="464.10" cy="158.40" r="1.85"/>
<circle cx="463.10" cy="190.30" r="1.85"/>
</g>
</g>
<g id="panelC">
<text x="1.9" y="281.2" font-size="16" font-weight="bold" fill="#111">C</text>
<path d="M43.9 288.2 V477.5 H226" fill="none" stroke="#111" stroke-width="1.5"/>
<line x1="42" x2="44" y1="296.9" y2="296.9" stroke="#1a1a1a" stroke-width="1"/>
<text x="39.8" y="300.0" font-size="11" text-anchor="end" fill="#111">1.00</text>
<line x1="42" x2="44" y1="340.0" y2="340.0" stroke="#1a1a1a" stroke-width="1"/>
<text x="39.8" y="343.1" font-size="11" text-anchor="end" fill="#111">0.75</text>
<line x1="42" x2="44" y1="383.09999999999997" y2="383.09999999999997" stroke="#1a1a1a" stroke-width="1"/>
<text x="39.8" y="386.2" font-size="11" text-anchor="end" fill="#111">0.50</text>
<line x1="42" x2="44" y1="426.2" y2="426.2" stroke="#1a1a1a" stroke-width="1"/>
<text x="39.8" y="429.3" font-size="11" text-anchor="end" fill="#111">0.25</text>
<line x1="42" x2="44" y1="469.2" y2="469.2" stroke="#1a1a1a" stroke-width="1"/>
<text x="39.8" y="472.3" font-size="11" text-anchor="end" fill="#111">0.00</text>
<line x1="52.2" x2="52.2" y1="477.5" y2="479.5" stroke="#1a1a1a" stroke-width="1"/>
<text x="52.2" y="490.4" font-size="11" text-anchor="middle" fill="#111">0</text>
<line x1="134.6" x2="134.6" y1="477.5" y2="479.5" stroke="#1a1a1a" stroke-width="1"/>
<text x="134.6" y="490.4" font-size="11" text-anchor="middle" fill="#111">5</text>
<line x1="218.2" x2="218.2" y1="477.5" y2="479.5" stroke="#1a1a1a" stroke-width="1"/>
<text x="218.2" y="490.4" font-size="11" text-anchor="middle" fill="#111">10</text>
<text x="135.8" y="502" font-size="11" text-anchor="middle" fill="#111">Years</text>
<text transform="translate(8.9,383.8) rotate(-90)" font-size="11.5" text-anchor="middle" fill="#111">Survival probability</text>
<text x="146.5" y="342.5" font-size="11" fill="#111"><tspan font-style="italic">P</tspan> = 0.04</text>
<text x="228" y="303.6" font-size="11.4" fill="#111">CCRL2</text>
<text x="237.8" y="313.5" font-size="11.4" fill="#111">Low</text>
<text x="237.8" y="325" font-size="11.4" fill="#111">High</text>
<line x1="228.5" x2="233.5" y1="310.8" y2="310.8" stroke="#111" stroke-width="1.5"/>
<line x1="228.5" x2="233.5" y1="322.1" y2="322.1" stroke="#111" stroke-width="1.5"/>
<path d="M51 297.2 L53.9 300.7 L56.9 304.9 L59.3 308.5 L62.3 310.3 L64.7 315.1 L67.1 319.8 L70.1 322.2 L71.8 327.6 L73.6 329.4 L76 330 L79 334.7 L82 340.1 L85 344.9 L89.7 349.6 L91.4 352.6 L96.1 362.1 L100.9 367.7 L105.7 374.9 L109.7 380.4 L114.4 382.8 L118 386 L119.2 388.9 L120.4 391.7 L123.4 392.5 L125.1 396.1 L128.1 397.9 L130.5 399.7 L132.7 402.1 L141.8 402.1 L143 403.9 L155 403.9 L156.8 405.6 L159.7 408 L169.3 408 L169.9 412.8 L171.7 414 L172.6 416.3 L193.9 416.3 L194.3 420 L202.4 420 L203 425.2 L226.2 425.2" fill="none" stroke="#0a0a0a" stroke-width="1.65" stroke-linejoin="miter"/>
<line x1="50.4" x2="53.6" y1="297.2" y2="297.2" stroke="#0a0a0a" stroke-width="1.6"/>
<line x1="57.9" x2="61.9" y1="301.6" y2="301.6" stroke="#0a0a0a" stroke-width="1.6"/>
<line x1="61.7" x2="66.5" y1="309.1" y2="309.1" stroke="#0a0a0a" stroke-width="1.6"/>
<line x1="73" x2="76.3" y1="311.8" y2="311.8" stroke="#0a0a0a" stroke-width="1.6"/>
<line x1="78" x2="81.7" y1="318.9" y2="318.9" stroke="#0a0a0a" stroke-width="1.6"/>
<line x1="86.4" x2="90" y1="323.1" y2="323.1" stroke="#0a0a0a" stroke-width="1.6"/>
<line x1="93.3" x2="96.6" y1="328.6" y2="328.6" stroke="#0a0a0a" stroke-width="1.6"/>
<line x1="116" x2="119.2" y1="355.3" y2="355.3" stroke="#0a0a0a" stroke-width="1.6"/>
<line x1="122" x2="125.4" y1="374" y2="374" stroke="#0a0a0a" stroke-width="1.6"/>
<line x1="138.7" x2="141.7" y1="395" y2="395" stroke="#0a0a0a" stroke-width="1.6"/>
<line x1="150.5" x2="154" y1="419.9" y2="419.9" stroke="#0a0a0a" stroke-width="1.6"/>
<line x1="163.3" x2="166.5" y1="419.9" y2="419.9" stroke="#0a0a0a" stroke-width="1.6"/>
<line x1="175.8" x2="178.7" y1="419.9" y2="419.9" stroke="#0a0a0a" stroke-width="1.6"/>
<line x1="188.1" x2="191" y1="419.9" y2="419.9" stroke="#0a0a0a" stroke-width="1.6"/>
<line x1="213" x2="215.9" y1="419.9" y2="419.9" stroke="#0a0a0a" stroke-width="1.6"/>
<line x1="104.8" x2="104.8" y1="329.6" y2="332.6" stroke="#0a0a0a" stroke-width="1.6"/>
<line x1="105" x2="105" y1="341.4" y2="344.5" stroke="#0a0a0a" stroke-width="1.6"/>
<line x1="108.1" x2="108.1" y1="351" y2="354.2" stroke="#0a0a0a" stroke-width="1.6"/>
<line x1="119.1" x2="119.1" y1="365" y2="367.7" stroke="#0a0a0a" stroke-width="1.6"/>
<line x1="132.1" x2="132.1" y1="376.9" y2="379.7" stroke="#0a0a0a" stroke-width="1.6"/>
<line x1="133.4" x2="133.4" y1="387.5" y2="390.7" stroke="#0a0a0a" stroke-width="1.6"/>
<line x1="149" x2="149" y1="396.9" y2="399.9" stroke="#0a0a0a" stroke-width="1.6"/>
<line x1="149" x2="149" y1="409.7" y2="412.6" stroke="#0a0a0a" stroke-width="1.6"/>
</g>
</svg>
</body>
</html>
